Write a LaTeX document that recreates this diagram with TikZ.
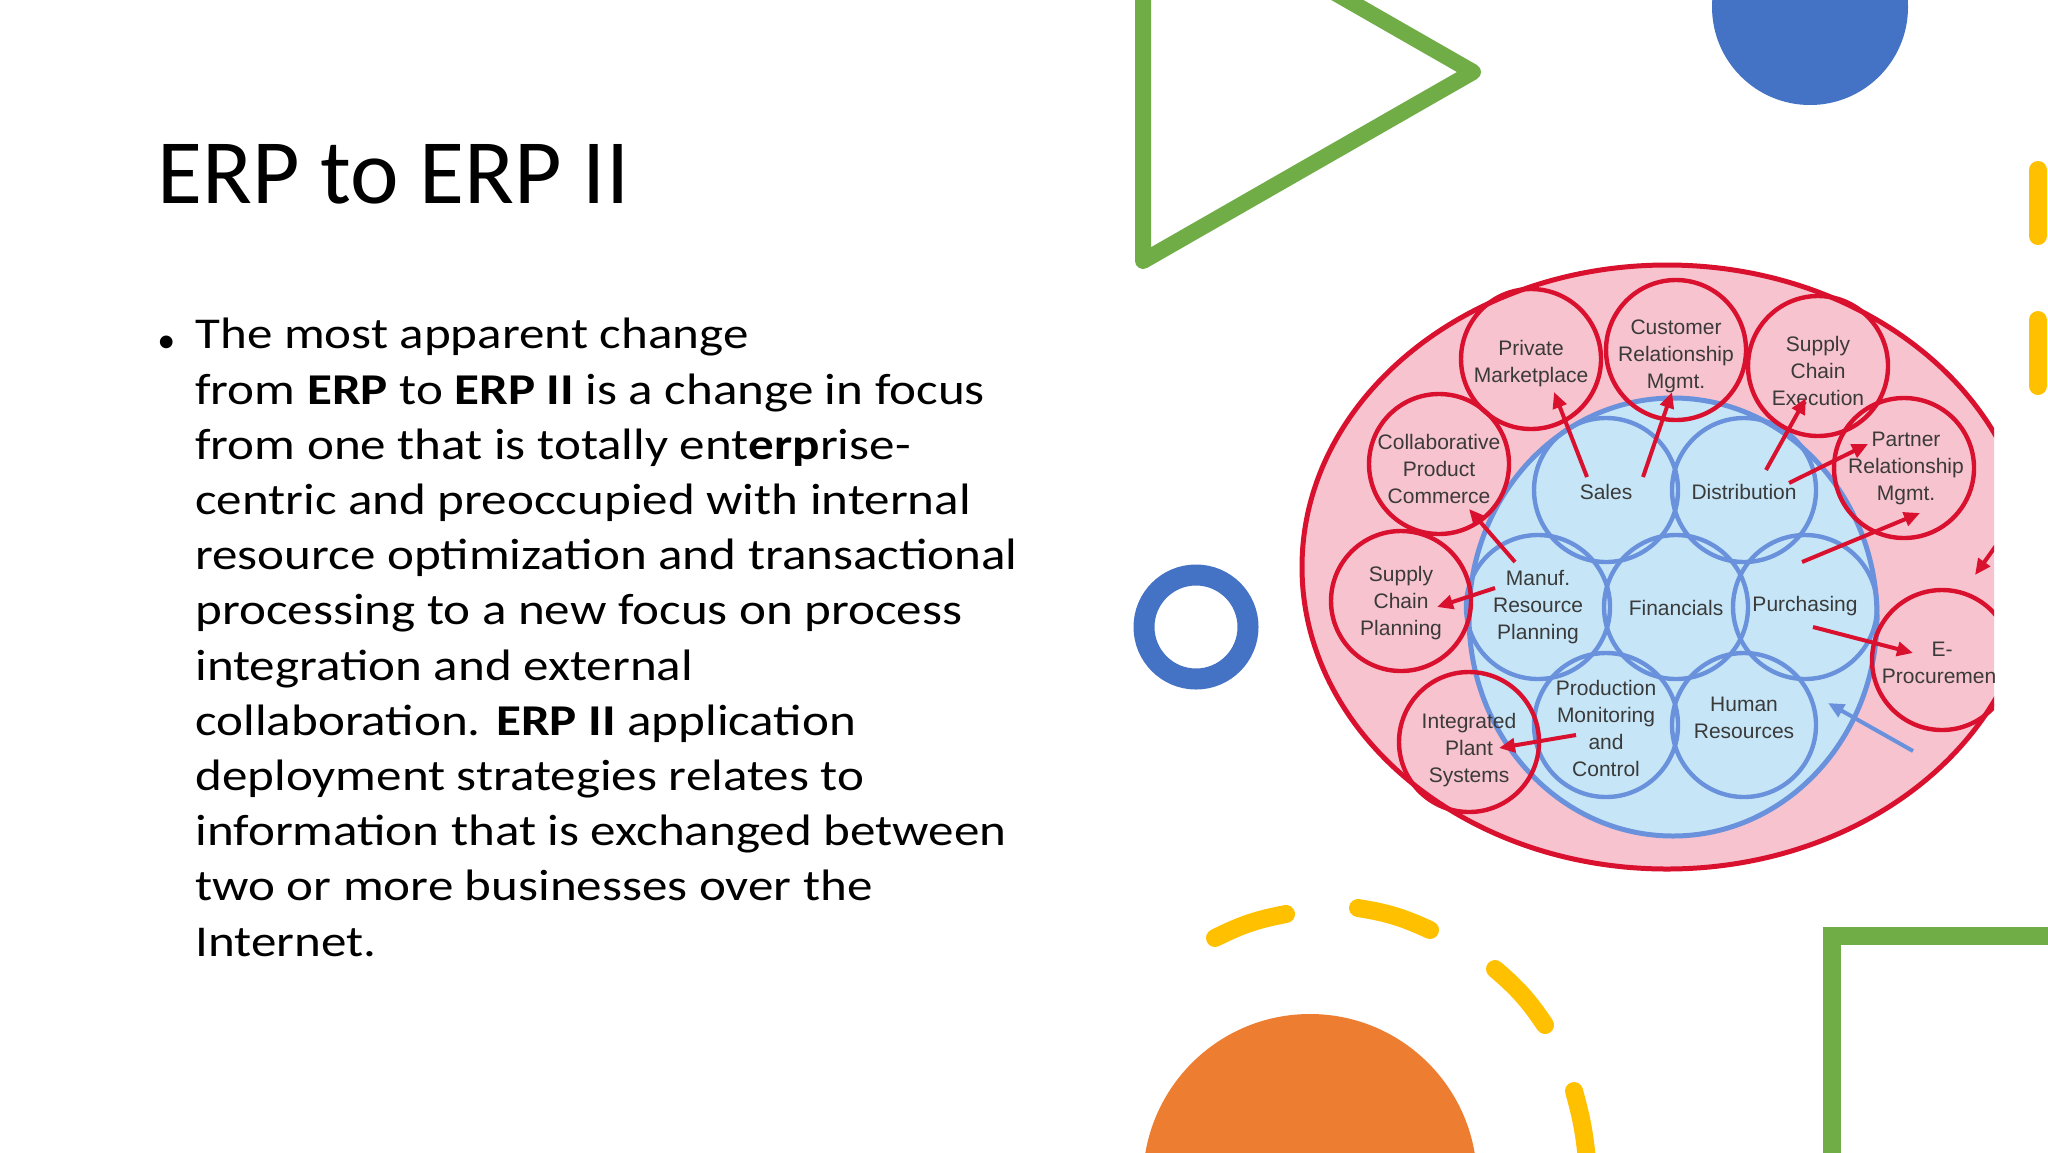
\documentclass[tikz,border=0pt]{standalone}
\usepackage{fontspec}
\setmainfont{Carlito}
\newfontfamily\bodyfont[FakeStretch=1.16]{Carlito}
\newfontfamily\diagfont{Liberation Sans}
\usetikzlibrary{arrows.meta}
\definecolor{ggreen}{HTML}{70AD47}
\definecolor{gblue}{HTML}{4472C4}
\definecolor{gyellow}{HTML}{FFC000}
\definecolor{gorange}{HTML}{ED7D31}
\definecolor{pinkfill}{HTML}{F7C3CF}
\definecolor{redline}{HTML}{D9102E}
\definecolor{bluefill}{HTML}{C6E6F7}
\definecolor{blueline}{HTML}{6A92DC}
\definecolor{dtext}{HTML}{3A3A3A}
\begin{document}
\begin{tikzpicture}[x=0.5pt,y=-0.5pt,
  bcirc/.style={circle,draw=blueline,line width=2.2pt,minimum size=72pt,inner sep=0pt},
  rcirc/.style={circle,draw=redline,line width=2.2pt,minimum size=70pt,inner sep=0pt},
  lbl/.style={font=\diagfont\fontsize{10.5}{13.5}\selectfont,text=dtext,align=center},
  rarr/.style={-{Triangle[length=8pt,width=7pt]},draw=redline,line width=2pt},
  barr/.style={-{Triangle[length=8pt,width=7pt]},draw=blueline,line width=2pt},
  ydash/.style={draw=gyellow,line width=9pt,line cap=round}]
\useasboundingbox (0,0) rectangle (2048,1152);
\fill[white] (0,0) rectangle (2048,1152);
% decorations
\draw[ggreen,line width=8pt,line join=round] (1143,-117) -- (1473,72) -- (1143,261) -- (1143,-117);
\fill[gblue] (1810,7) circle[radius=98];
\draw[ydash] (2038,170) -- (2038,236);
\draw[ydash] (2038,320) -- (2038,386);
\draw[gblue,line width=10.5pt] (1196,627) circle[radius=52];
\draw[ydash] (1215,938) to[bend left=8] (1286,914);
\draw[ydash] (1358,908) to[bend left=8] (1430,930);
\draw[ydash] (1495,969) to[bend left=8] (1545,1025);
\draw[ydash] (1574,1091) to[bend left=5] (1587,1160);
\fill[gorange] (1310,1181) circle[radius=167];
\draw[ggreen,line width=9pt] (1832,1160) -- (1832,936) -- (2060,936);
% title and text
\node[anchor=base west,font=\fontsize{46}{54}\selectfont,inner sep=0] (title) at (157,203) {ERP to ERP II};
\node[anchor=base west,font=\fontsize{18}{27.6}\selectfont,inner sep=0] (bul) at (157,352) {•};
\node[anchor=north west,font=\bodyfont\fontsize{22}{27.6}\selectfont,inner sep=0,align=left] (body) at (195,318) {%
The most apparent change\\
from \textbf{ERP} to \textbf{ERP II} is a change in focus\\
from one that is totally ent\textbf{erp}rise-\\
centric and preoccupied with internal\\
resource optimization and transactional\\
processing to a new focus on process\\
integration and external\\
collaboration. \textbf{ERP II} application\\
deployment strategies relates to\\
information that is exchanged between\\
two or more businesses over the\\
Internet.};
% diagram
\begin{scope}
\clip (1290,250) rectangle (1994,880);
\fill[pinkfill] (1667,567) ellipse[x radius=365,y radius=302];
\draw[redline,line width=2.5pt] (1667,567) ellipse[x radius=365,y radius=302];
\fill[bluefill] (1673,617) ellipse[x radius=204,y radius=219];
\draw[blueline,line width=2.5pt] (1673,617) ellipse[x radius=204,y radius=219];
\node[bcirc] (sales) at (1606,490) {};
\node[bcirc] (dist) at (1744,490) {};
\node[bcirc] (manuf) at (1538,607) {};
\node[bcirc] (fin) at (1676,607) {};
\node[bcirc] (purch) at (1805,607) {};
\node[bcirc] (prod) at (1606,725) {};
\node[bcirc] (hr) at (1744,725) {};
\node[rcirc] (pm) at (1531,359) {};
\node[rcirc] (crm) at (1676,350) {};
\node[rcirc] (sce) at (1818,366) {};
\node[rcirc] (cpc) at (1439,464) {};
\node[rcirc] (prm) at (1904,468) {};
\node[rcirc] (scp) at (1401,601) {};
\node[rcirc] (ep) at (1942,660) {};
\node[rcirc] (ips) at (1469,742) {};
\node[lbl] at (1606,492) {Sales};
\node[lbl] at (1744,492) {Distribution};
\node[lbl] at (1538,607) {Manuf.\\Resource\\Planning};
\node[lbl] at (1676,608) {Financials};
\node[lbl] at (1805,606) {Purchasing};
\node[lbl] at (1606,728) {Production\\Monitoring\\and\\Control};
\node[lbl] at (1744,718) {Human\\Resources};
\node[lbl] at (1531,364) {Private\\Marketplace};
\node[lbl] at (1676,356) {Customer\\Relationship\\Mgmt.};
\node[lbl] at (1818,371) {Supply\\Chain\\Execution};
\node[lbl] at (1439,469) {Collaborative\\Product\\Commerce};
\node[lbl] at (1906,468) {Partner\\Relationship\\Mgmt.};
\node[lbl] at (1401,603) {Supply\\Chain\\Planning};
\node[lbl] at (1942,663) {E-\\Procurement};
\node[lbl] at (1469,750) {Integrated\\Plant\\Systems};
\coordinate (a1s) at (1587,477); \coordinate (a1e) at (1554,392);
\coordinate (a2s) at (1643,477); \coordinate (a2e) at (1672,392);
\coordinate (a3s) at (1766,470); \coordinate (a3e) at (1806,398);
\coordinate (a4s) at (1789,483); \coordinate (a4e) at (1868,444);
\coordinate (a5s) at (1802,562); \coordinate (a5e) at (1920,513);
\coordinate (a6s) at (1813,627); \coordinate (a6e) at (1913,653);
\coordinate (a7s) at (1515,562); \coordinate (a7e) at (1469,509);
\coordinate (a8s) at (1495,588); \coordinate (a8e) at (1437,607);
\coordinate (a9s) at (1576,735); \coordinate (a9e) at (1499,748);
\coordinate (a10s) at (2000,540); \coordinate (a10e) at (1975,575);
\coordinate (b1s) at (1913,751); \coordinate (b1e) at (1828,703);
\draw[rarr] (a1s) -- (a1e);
\draw[rarr] (a2s) -- (a2e);
\draw[rarr] (a3s) -- (a3e);
\draw[rarr] (a4s) -- (a4e);
\draw[rarr] (a5s) -- (a5e);
\draw[rarr] (a6s) -- (a6e);
\draw[rarr] (a7s) -- (a7e);
\draw[rarr] (a8s) -- (a8e);
\draw[rarr] (a9s) -- (a9e);
\draw[rarr] (a10s) -- (a10e);
\draw[barr] (b1s) -- (b1e);
\end{scope}
\end{tikzpicture}
\end{document}
